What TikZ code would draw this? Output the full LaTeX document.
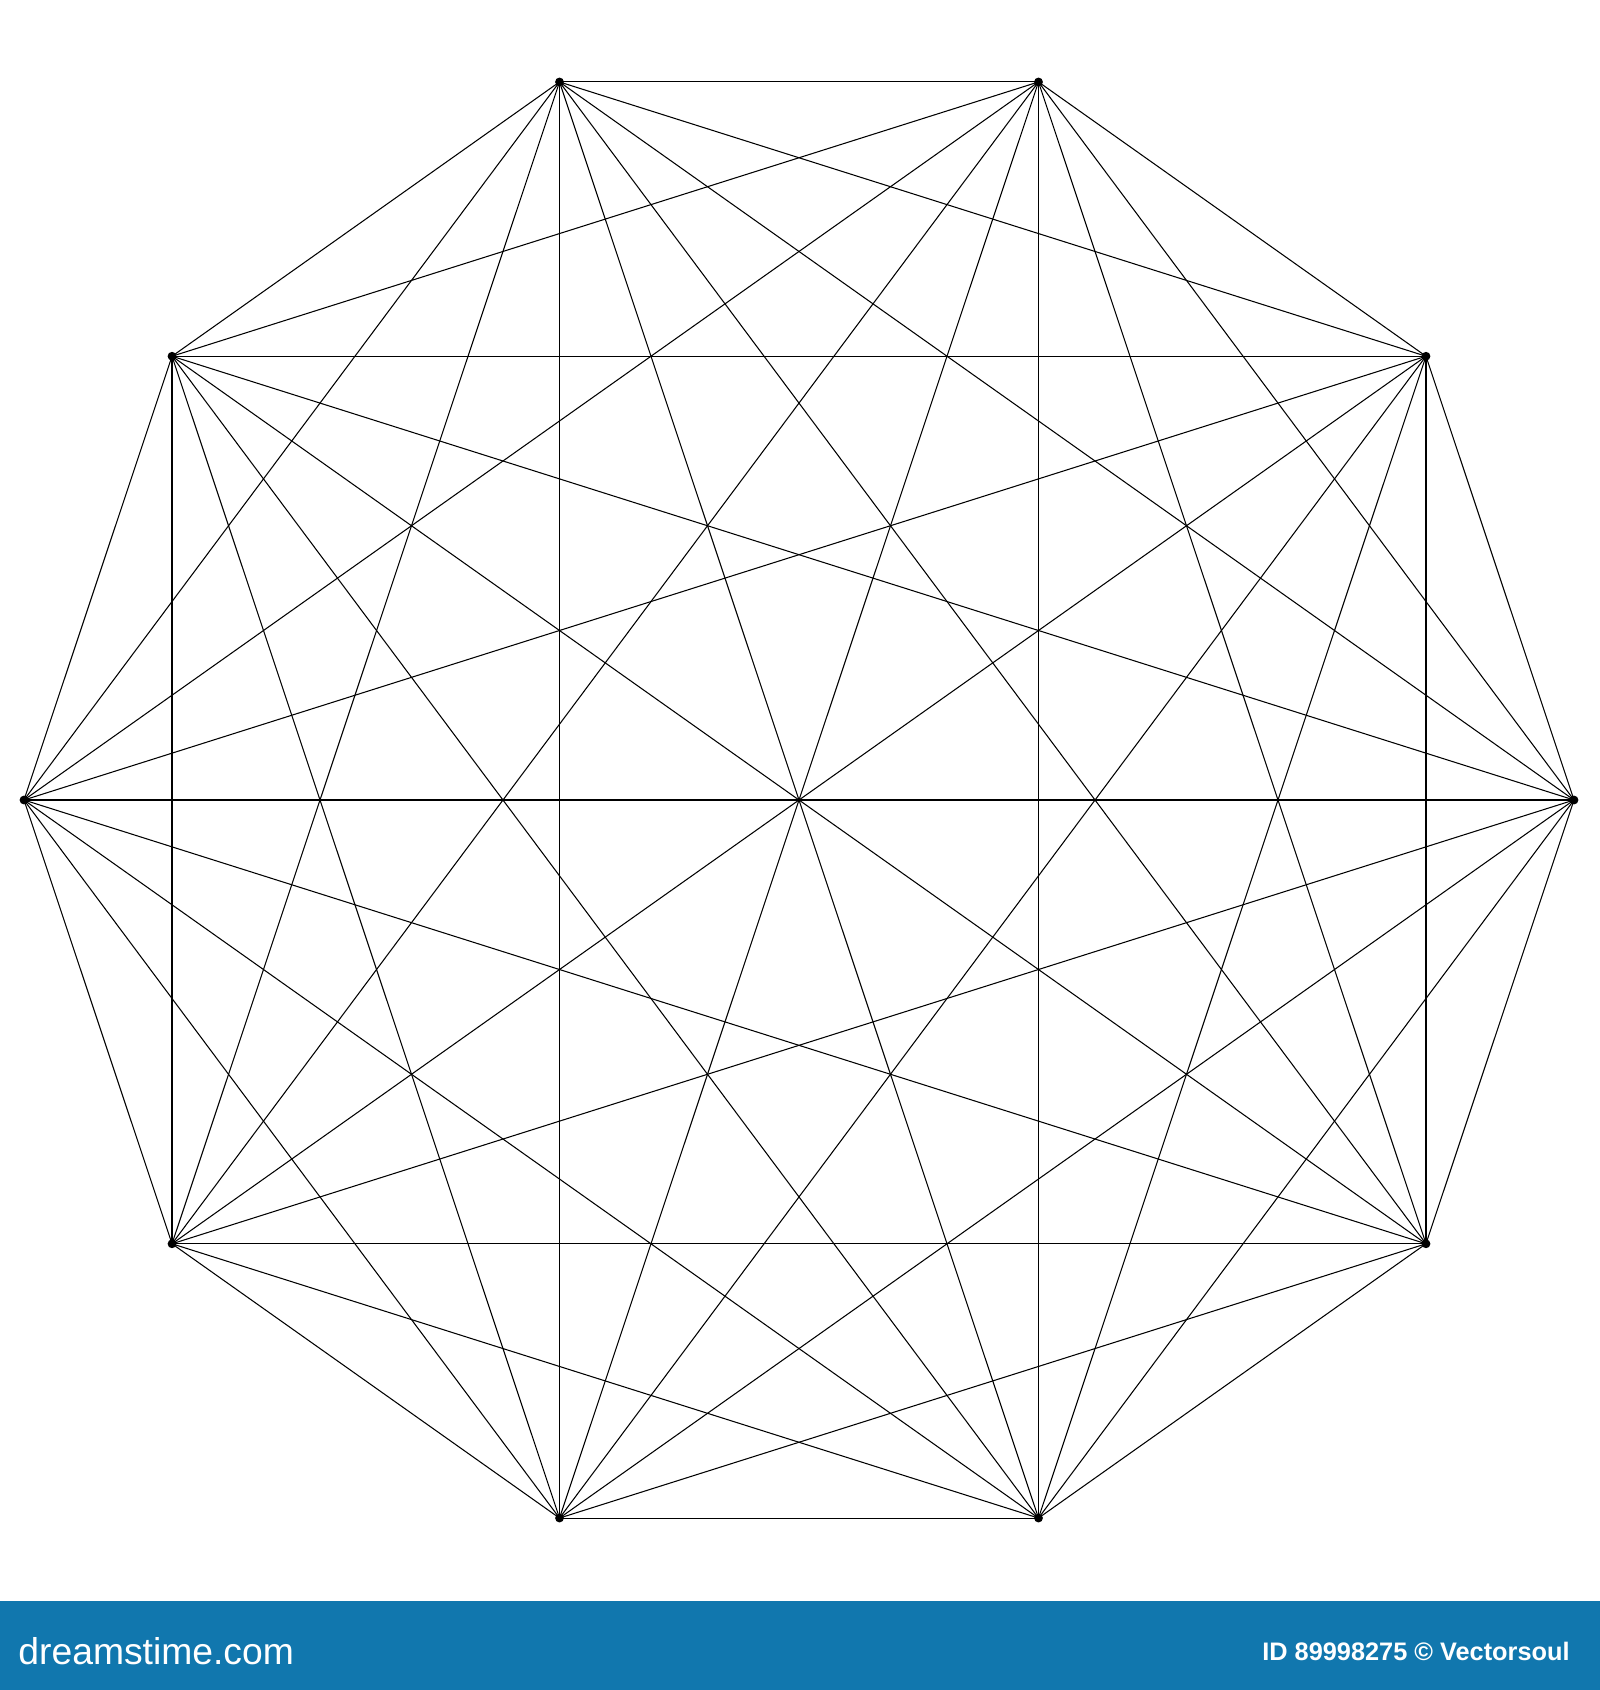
\documentclass[tikz,border=0pt]{standalone}
\usepackage{fontspec}
\setmainfont{Liberation Sans}
\usepackage{tikz}
\definecolor{bannerblue}{HTML}{1177AE}

\begin{document}
\begin{tikzpicture}[x=0.01cm, y=-0.01cm,
	chord/.style={line width=0.3pt, black},
	corner/.style={circle, fill, inner sep=0pt, minimum size=2.5pt}]
	\useasboundingbox (0,0) rectangle (1600,1690);
	
	\foreach \k in {0,...,9}
		\node[corner] (v\k) at ({799+775*cos(36*\k)}, {800-755*sin(36*\k)}) {};
	
	\foreach \i in {0,...,8} {
		\pgfmathtruncatemacro{\nxt}{\i+1}
		\foreach \j in {\nxt,...,9}
			\draw[chord] (v\i.center) -- (v\j.center);
	}
	
	\fill[bannerblue] (0,1601) rectangle (1600,1690);
	\node[anchor=west, text=white, font=\fontsize{10.6}{12}\selectfont] (site) at (6,1651) {dreamstime.com};
	\node[anchor=east, text=white, font=\fontsize{7.2}{9}\selectfont\bfseries] (credit) at (1582,1651) {ID 89998275 © Vectorsoul};
\end{tikzpicture}
\end{document}
